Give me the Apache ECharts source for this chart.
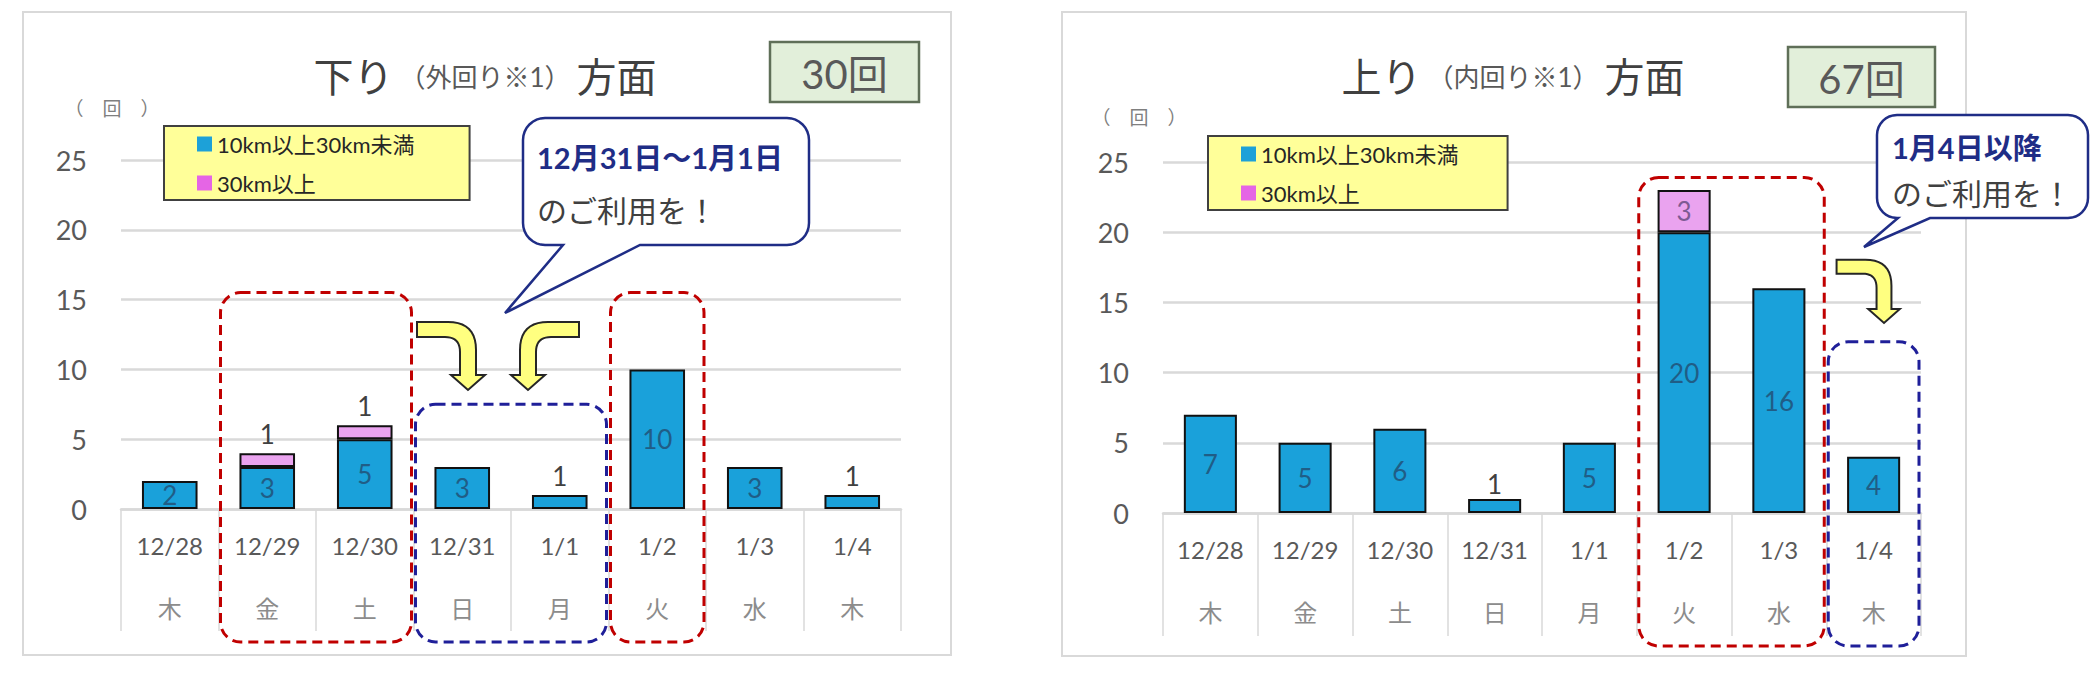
<!DOCTYPE html>
<html>
<head>
<meta charset="utf-8">
<script src="https://cdn.jsdelivr.net/npm/echarts@6/dist/echarts.min.js"></script>
<style>
  html, body { margin: 0; padding: 0; background: #fff; }
  #main { width: 2095px; height: 675px; }
</style>
</head>
<body>
<div id="main"></div>
<script>
// categories
var dates = ['12/28', '12/29', '12/30', '12/31', '1/1', '1/2', '1/3', '1/4'];
var weekdays = ['木', '金', '土', '日', '月', '火', '水', '木'];
var yTicks = [0, 5, 10, 15, 20, 25];
var seriesNames = ['10km以上30km未満', '30km以上'];

// 下り（外回り）
var downShort = [2, 3, 5, 3, 1, 10, 3, 1];
var downLong = [null, 1, 1, null, null, null, null, null];
// 上り（内回り）
var upShort = [7, 5, 6, 1, 5, 20, 16, 4];
var upLong = [null, null, null, null, null, 3, null, null];

var FONT = 'Lato, "Noto Sans CJK JP", sans-serif';
var BLUE = '#1aa1da';
var PINK = '#eaa3ef';

function sum(arr) {
  var s = 0;
  for (var i = 0; i < arr.length; i++) s += arr[i] || 0;
  return s;
}

function makeX(gi, tickLen) {
  return {
    type: 'category',
    gridIndex: gi,
    data: dates,
    axisLine: { show: true, lineStyle: { color: '#d9d9d9', width: 2.5 } },
    axisTick: { show: true, length: tickLen, lineStyle: { color: '#d9d9d9', width: 1.5 } },
    axisLabel: {
      margin: 5,
      formatter: function (v, i) {
        return '{d|' + v + '}\n{w|' + weekdays[i] + '}';
      },
      rich: {
        d: { fontSize: 24, color: '#595959', fontFamily: FONT, lineHeight: 63 },
        w: { fontSize: 24, color: '#8c8c8c', fontFamily: FONT, lineHeight: 63 }
      }
    }
  };
}

function makeY(gi) {
  return {
    type: 'value',
    gridIndex: gi,
    min: yTicks[0],
    max: yTicks[yTicks.length - 1],
    interval: yTicks[1] - yTicks[0],
    axisLine: { show: false },
    axisTick: { show: false },
    axisLabel: { margin: 34, fontSize: 27, color: '#595959', fontFamily: FONT },
    splitLine: { lineStyle: { color: '#d9d9d9', width: 2.5 } }
  };
}

function makeBars(gi, shortArr, longArr, barW, topDist) {
  var lbl = { fontSize: 26, fontFamily: FONT };
  return [{
    name: seriesNames[0],
    type: 'bar',
    xAxisIndex: gi,
    yAxisIndex: gi,
    stack: 's' + gi,
    barWidth: barW,
    itemStyle: { color: BLUE, borderColor: '#111', borderWidth: 2 },
    label: Object.assign({ show: true, position: 'inside', color: '#205d86' }, lbl),
    data: shortArr.map(function (v) {
      return v === 1 ? { value: v, label: { position: 'top', color: '#404040', distance: topDist } } : v;
    })
  }, {
    name: seriesNames[1],
    type: 'bar',
    xAxisIndex: gi,
    yAxisIndex: gi,
    stack: 's' + gi,
    barWidth: barW,
    itemStyle: { color: PINK, borderColor: '#111', borderWidth: 2 },
    label: Object.assign({ show: true, position: 'inside', color: '#7d5a93' }, lbl),
    data: longArr.map(function (v) {
      return v === 1 ? { value: v, label: { position: 'top', color: '#404040', distance: topDist } } : v;
    })
  }];
}

function makeLegend(left, top, padRight) {
  return {
    left: left,
    top: top,
    orient: 'vertical',
    icon: 'rect',
    itemWidth: 15,
    itemHeight: 15,
    itemGap: 17,
    padding: [7, padRight, 6, 33],
    backgroundColor: '#ffff99',
    borderColor: '#404040',
    borderWidth: 2,
    textStyle: { fontSize: 22, color: '#262626', fontFamily: FONT },
    data: [
      { name: seriesNames[0], itemStyle: { color: '#1da1d8', borderWidth: 0 } },
      { name: seriesNames[1], itemStyle: { color: '#e565e5', borderWidth: 0 } }
    ]
  };
}

var chart = echarts.init(document.getElementById('main'), null, { renderer: 'svg' });

var option = {
  animation: false,
  backgroundColor: '#fff',
  legend: [makeLegend(164, 126, 55), makeLegend(1208, 136, 49)],
  grid: [
    { left: 121, top: 160, width: 780, height: 349, outerBoundsMode: 'none' },
    { left: 1163, top: 162, width: 758, height: 351, outerBoundsMode: 'none' }
  ],
  xAxis: [makeX(0, 122), makeX(1, 123)],
  yAxis: [makeY(0), makeY(1)],
  series: makeBars(0, downShort, downLong, '57%', 6).concat(makeBars(1, upShort, upLong, '56%', 2))
};
chart.setOption(option);

// ---- annotations ----
// rounded speech bubble as polygon points, tail on the bottom edge
function calloutPoints(x, y, w, h, r, b1, b2, tx, ty) {
  var pts = [];
  function arc(cx, cy, a0, a1) {
    for (var k = 0; k <= 8; k++) {
      var a = a0 + (a1 - a0) * k / 8;
      pts.push([cx + r * Math.cos(a), cy + r * Math.sin(a)]);
    }
  }
  arc(x + r, y + r, Math.PI, Math.PI * 1.5);
  arc(x + w - r, y + r, Math.PI * 1.5, Math.PI * 2);
  arc(x + w - r, y + h - r, 0, Math.PI * 0.5);
  pts.push([b2, y + h], [tx, ty], [b1, y + h]);
  arc(x + r, y + h - r, Math.PI * 0.5, Math.PI);
  return pts;
}

// curved "turn down" arrow as polygon points, tip at (tx, ty)
function arrowPoints(tx, ty, dir, s) {
  var segs = [['M', -51, 0], ['L', -20, 0], ['Q', 8, 0, 8, 28], ['L', 8, 53], ['L', 17, 53],
    ['L', 0, 68], ['L', -17, 53], ['L', -8, 53], ['L', -8, 30], ['Q', -8, 15, -23, 15], ['L', -51, 15]];
  var top = ty - 68 * s;
  var pts = [];
  var cur = null;
  function map(px, py) { return [tx + dir * px * s, top + py * s]; }
  segs.forEach(function (sg) {
    if (sg[0] === 'Q') {
      for (var k = 1; k <= 10; k++) {
        var t = k / 10, u = 1 - t;
        var px = u * u * cur[0] + 2 * u * t * sg[1] + t * t * sg[3];
        var py = u * u * cur[1] + 2 * u * t * sg[2] + t * t * sg[4];
        pts.push(map(px, py));
      }
      cur = [sg[3], sg[4]];
    } else {
      cur = [sg[1], sg[2]];
      pts.push(map(cur[0], cur[1]));
    }
  });
  return pts;
}

// dashed highlight boxes: category range and top value
var boxes = [
  { grid: 0, from: 1, to: 2, top: 15.5, color: '#c00000' },
  { grid: 0, from: 5, to: 5, top: 15.5, color: '#c00000' },
  { grid: 0, from: 3, to: 4, top: 7.5, color: '#1f1f99' },
  { grid: 1, from: 5, to: 6, top: 23.9, color: '#c00000' },
  { grid: 1, from: 7, to: 7, top: 12.2, color: '#1f1f99' }
];

var g = [];
// outer frames
g.push({ type: 'rect', z: -10, shape: { x: 23, y: 12, width: 928, height: 643 }, style: { fill: 'none', stroke: '#d9d9d9', lineWidth: 2 } });
g.push({ type: 'rect', z: -10, shape: { x: 1062, y: 12, width: 904, height: 644 }, style: { fill: 'none', stroke: '#d9d9d9', lineWidth: 2 } });

// titles
var titleRich = {
  a: { fontSize: 40, fill: '#404040', fontFamily: FONT },
  b: { fontSize: 26, fill: '#595959', fontFamily: FONT, padding: [0, 6] }
};
g.push({ type: 'text', z: 5, style: { x: 485, y: 77, text: '{a|下り}{b|（外回り※1）}{a|方面}', rich: titleRich, align: 'center', verticalAlign: 'middle' } });
g.push({ type: 'text', z: 5, style: { x: 1513, y: 77, text: '{a|上り}{b|（内回り※1）}{a|方面}', rich: titleRich, align: 'center', verticalAlign: 'middle' } });

// totals
var totals = [
  { x: 770, y: 42, w: 149, h: 60, n: sum(downShort) + sum(downLong) },
  { x: 1788, y: 47, w: 147, h: 60, n: sum(upShort) + sum(upLong) }
];
totals.forEach(function (t) {
  g.push({ type: 'rect', z: 5, shape: { x: t.x, y: t.y, width: t.w, height: t.h }, style: { fill: '#e2efda', stroke: '#5f6f58', lineWidth: 2.5 } });
  g.push({ type: 'text', z: 6, style: { x: t.x + t.w / 2, y: t.y + t.h / 2 + 2, text: t.n + '回', fontSize: 40, fill: '#595959', fontFamily: FONT, align: 'center', verticalAlign: 'middle' } });
});

// unit labels
g.push({ type: 'text', z: 5, style: { x: 112, y: 108, text: '（　回　）', fontSize: 19, fill: '#7f7f7f', fontFamily: FONT, align: 'center', verticalAlign: 'middle' } });
g.push({ type: 'text', z: 5, style: { x: 1139, y: 117, text: '（　回　）', fontSize: 19, fill: '#7f7f7f', fontFamily: FONT, align: 'center', verticalAlign: 'middle' } });

// dashed boxes
boxes.forEach(function (b) {
  var p0 = chart.convertToPixel({ gridIndex: b.grid }, [dates[b.from], b.top]);
  var p1 = chart.convertToPixel({ gridIndex: b.grid }, [dates[b.to], 0]);
  var pNext = chart.convertToPixel({ gridIndex: b.grid }, [dates[1], 0]);
  var pFirst = chart.convertToPixel({ gridIndex: b.grid }, [dates[0], 0]);
  var half = (pNext[0] - pFirst[0]) / 2;
  var x0 = p0[0] - half + 2, x1 = p1[0] + half - 2;
  g.push({
    type: 'rect', z: 10,
    shape: { x: x0, y: p0[1], width: x1 - x0, height: p1[1] + 133 - p0[1], r: 20 },
    style: { fill: 'none', stroke: b.color, lineWidth: 3, lineDash: [10, 6] }
  });
});

// callouts
var bubbleStyle = { fill: '#fff', stroke: '#1f2d86', lineWidth: 2.5 };
g.push({ type: 'polygon', z: 20, shape: { points: calloutPoints(523, 118, 286, 127, 22, 563, 640, 505, 313) }, style: bubbleStyle });
g.push({ type: 'text', z: 21, style: { x: 537, y: 157, text: '12月31日～1月1日', fontSize: 29, fontWeight: 'bold', fill: '#1f2d86', fontFamily: FONT, verticalAlign: 'middle' } });
g.push({ type: 'text', z: 21, style: { x: 537, y: 210, text: 'のご利用を！', fontSize: 30, fill: '#404040', fontFamily: FONT, verticalAlign: 'middle' } });

g.push({ type: 'polygon', z: 20, shape: { points: calloutPoints(1877, 115, 211, 103, 20, 1898, 1930, 1864, 247) }, style: bubbleStyle });
g.push({ type: 'text', z: 21, style: { x: 1892, y: 147, text: '1月4日以降', fontSize: 29, fontWeight: 'bold', fill: '#1f2d86', fontFamily: FONT, verticalAlign: 'middle' } });
g.push({ type: 'text', z: 21, style: { x: 1892, y: 193, text: 'のご利用を！', fontSize: 30, fill: '#404040', fontFamily: FONT, verticalAlign: 'middle' } });

// yellow arrows
var arrowStyle = { fill: '#ffff80', stroke: '#262626', lineWidth: 2 };
g.push({ type: 'polygon', z: 20, shape: { points: arrowPoints(468, 390, 1, 1) }, style: arrowStyle });
g.push({ type: 'polygon', z: 20, shape: { points: arrowPoints(528, 390, -1, 1) }, style: arrowStyle });
g.push({ type: 'polygon', z: 20, shape: { points: arrowPoints(1884, 323, 1, 0.93) }, style: arrowStyle });

chart.setOption({ graphic: g });
</script>
</body>
</html>
